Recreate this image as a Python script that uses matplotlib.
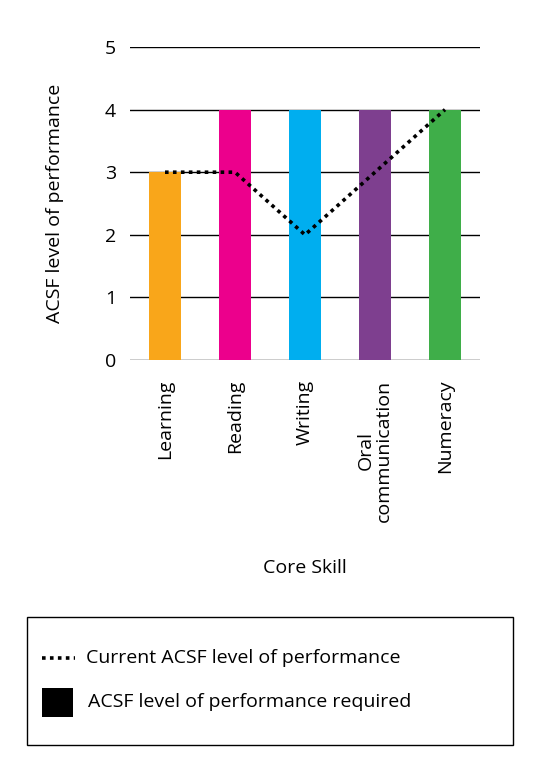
import matplotlib
matplotlib.use("Agg")
import matplotlib.pyplot as plt
from matplotlib.lines import Line2D
from matplotlib.patches import Rectangle

categories = ["Learning", "Reading", "Writing", "Oral\ncommunication", "Numeracy"]
required = [3, 4, 4, 4, 4]
current = [3, 3, 2, 3, 4]
colors = ["#F9A61A", "#EC008C", "#00AEEF", "#7E3F8F", "#3FAE49"]
yticks = [0, 1, 2, 3, 4, 5]
legend_labels = ["Current ACSF level of performance", "ACSF level of performance required"]

plt.rcParams['font.family'] = ['Open Sans', 'DejaVu Sans']
FS = 14

W, H = 537, 773
fig = plt.figure(figsize=(W/100, H/100), dpi=100)
ax = fig.add_axes([130/W, 1-360/H, 350/W, 313/H])

x = list(range(len(categories)))
ax.bar(x, required, width=0.47, color=colors, zorder=2)
ax.plot(x, current, color="black", linestyle=(0, (1, 1.2)), linewidth=2.6, zorder=3)

ax.set_ylim(0, 5)
ax.set_xlim(-0.5, len(categories) - 0.5)
ax.set_yticks(yticks)
ax.yaxis.grid(True, color="black", linewidth=1)
ax.set_axisbelow(True)
for s in ax.spines.values():
    s.set_visible(False)
ax.tick_params(axis='both', length=0, labelsize=FS)
ax.tick_params(axis='y', pad=10)
ax.set_xticks(x)
ax.set_xticklabels(categories, rotation=90, ha='center', va='top', multialignment='center',
                   linespacing=1.0)
ax.tick_params(axis='x', pad=14)
ax.set_ylabel("ACSF level of performance", fontsize=FS)
ax.yaxis.set_label_coords(-(130-64)/350, 0.5)
ax.set_xlabel("Core Skill", fontsize=FS)
ax.xaxis.set_label_coords(0.5, -(568-360)/313)
ax.xaxis.label.set_va('center')

def fx(px):
    return px / W
def fy(py):
    return 1 - py / H

fig.patches.append(Rectangle((fx(27), fy(745)), fx(486), 128/H, transform=fig.transFigure,
                             fill=False, edgecolor="black", linewidth=1))
fig.add_artist(Line2D([fx(42), fx(75)], [fy(658), fy(658)], transform=fig.transFigure,
                      color="black", linestyle=(0, (1, 1.2)), linewidth=2.6))
fig.patches.append(Rectangle((fx(42), fy(717)), 31/W, 29/H, transform=fig.transFigure,
                             facecolor="black", edgecolor="none"))
fig.text(fx(86), fy(658), legend_labels[0], fontsize=FS, va='center', ha='left')
fig.text(fx(88), fy(702), legend_labels[1], fontsize=FS, va='center', ha='left')

fig.savefig("out.png", dpi=100)
